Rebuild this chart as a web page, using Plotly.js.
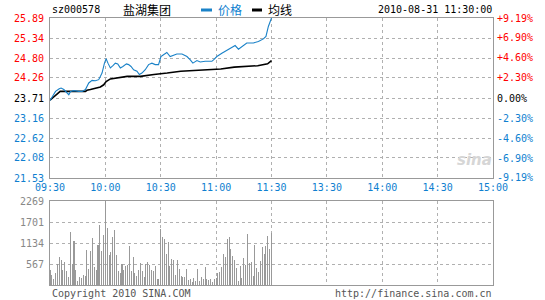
<!DOCTYPE html>
<html><head><meta charset="utf-8">
<script src="https://cdn.plot.ly/plotly-3.0.1.min.js"></script>
<style>html,body{margin:0;padding:0;background:#fff}#c{width:545px;height:300px}</style>
</head><body><div id="c"></div>
<script>
// ---- data ----
const timeLabels = ['09:30','10:00','10:30','11:00','11:30','13:30','14:00','14:30','15:00'];
const timeTicks = [0,30,60,90,120,150,180,210,240];
const basePrice = 23.71;
const priceTicks = [25.89,25.34,24.80,24.26,23.71,23.16,22.62,22.08,21.53];
const priceTickLabels = ['25.89','25.34','24.80','24.26','23.71','23.16','22.62','22.08','21.53'];
const pctTicks = [9.19,6.90,4.60,2.30,0,-2.30,-4.60,-6.90,-9.19];
const pctTickLabels = ['+9.19%','+6.90%','+4.60%','+2.30%','0.00%','-2.30%','-4.60%','-6.90%','-9.19%'];
const volTicks = [567,1134,1701,2269];
const volTickLabels = ['567','1134','1701','2269'];

const priceMin = [0,3,5,6,7.5,9.3,10.2,11.1,12.9,15.6,17.4,19.2,21,22.8,24.6,26.4,28.2,29.5,30.4,31.4,32.7,34.1,35.4,36.7,38.1,39.5,41.4,42.6,43.9,45.3,47.1,48.4,49.8,51.6,53.4,55.2,57,58.8,60.1,61.5,63.3,65.1,67.3,68.7,71.5,74.2,76,77.4,79.6,81.4,84.1,87.7,88.6,90.4,93.1,95.8,98.5,100.3,102.1,103.9,106.6,110.2,112.9,115.6,117,118.3,119.6,120];
const priceVal = [23.64,23.89,23.96,23.98,23.94,23.86,23.80,23.89,23.91,23.89,23.89,23.94,24.12,24.19,24.18,24.21,24.39,24.66,24.78,24.66,24.53,24.59,24.66,24.64,24.53,24.57,24.64,24.62,24.57,24.48,24.44,24.35,24.39,24.48,24.62,24.66,24.62,24.62,24.84,24.89,24.95,24.84,24.89,24.91,24.91,24.84,24.75,24.66,24.73,24.69,24.71,24.71,24.75,24.84,24.93,25.01,25.07,25.14,25.04,25.10,25.21,25.21,25.25,25.32,25.39,25.66,25.86,25.89];

const avgMin = [0,2.7,5.5,19.2,20,21.9,24.6,27.3,29.1,30.4,32.7,35.4,38.1,41.8,49,52.6,56.3,63.5,70.8,78,85.3,92.5,99.8,107,112.5,117.9,120];
const avgVal = [23.65,23.77,23.89,23.89,23.92,23.94,23.98,24.01,24.07,24.16,24.23,24.25,24.28,24.30,24.30,24.33,24.35,24.39,24.44,24.46,24.48,24.50,24.55,24.57,24.59,24.64,24.73];

const volume = [413,270,162,324,567,756,684,413,621,369,216,1440,576,1197,405,99,216,189,270,252,
954,432,927,1269,486,405,1089,1629,927,1359,2269,1539,819,891,1287,1485,819,387,324,567,
413,504,549,1062,387,747,324,234,413,594,387,207,576,621,549,413,369,522,171,162,
1512,1287,1242,837,1161,504,702,666,261,675,432,234,207,207,432,126,162,72,189,99,
432,117,216,162,486,171,144,162,81,162,189,324,351,486,837,756,1242,1296,972,792,
684,459,117,504,189,729,549,1377,594,621,252,1089,459,351,639,1026,837,1044,1332,981,1404];
const volMin = volume.map((v,i)=>i);

// ---- styling ----
const RED='#ff0000', BLUE='#0f7fd0', BLK='#000000', GRAY='#888888';
const MONO='DejaVu Sans Mono, monospace';
const CJK='Noto Sans CJK SC, sans-serif';
function colorFor(v){return v>0?RED:(v<0?BLUE:BLK);}
const priceTickText = priceTickLabels.map((t,i)=>'<span style="color:'+colorFor(priceTicks[i]-basePrice)+'">'+t+'</span>');

const L=50, R=493, T=18, B=285, H=300;
const mainBottom=178, volTop=201;
const px=x=>(x-L)/(R-L), py=y=>(B-y)/(B-T);

const traces=[
 {x:volMin,y:volume,type:'bar',xaxis:'x2',yaxis:'y2',marker:{color:'#999999',line:{width:0}},width:0.55,hoverinfo:'skip'},
 {x:avgMin,y:avgVal,type:'scatter',mode:'lines',line:{color:'#000',width:1.6},xaxis:'x',yaxis:'y',hoverinfo:'skip'},
 {x:priceMin,y:priceVal,type:'scatter',mode:'lines',line:{color:'#1a82c8',width:1.1},xaxis:'x',yaxis:'y',hoverinfo:'skip'}
];

const gridC='#b0b0b0';
const annotations=[
   {xref:'paper',yref:'paper',x:px(50),y:py(10),xanchor:'left',yanchor:'middle',text:'sz000578',showarrow:false,font:{family:MONO,size:10,color:'#000'}},
   {xref:'paper',yref:'paper',x:px(121),y:py(10),xanchor:'left',yanchor:'middle',text:'盐湖集团',showarrow:false,font:{family:CJK,size:12,color:'#000'}},
   {xref:'paper',yref:'paper',x:px(216),y:py(10),xanchor:'left',yanchor:'middle',text:'价格',showarrow:false,font:{family:CJK,size:12,color:BLUE}},
   {xref:'paper',yref:'paper',x:px(266),y:py(10),xanchor:'left',yanchor:'middle',text:'均线',showarrow:false,font:{family:CJK,size:12,color:'#000'}},
   {xref:'paper',yref:'paper',x:px(494),y:py(10),xanchor:'right',yanchor:'middle',text:'2010-08-31 11:30:00',showarrow:false,font:{family:MONO,size:10,color:'#000'}},
   {xref:'paper',yref:'paper',x:px(50),y:py(293),xanchor:'left',yanchor:'middle',text:'Copyright 2010 SINA.COM',showarrow:false,font:{family:MONO,size:10,color:'#555'}},
   {xref:'paper',yref:'paper',x:px(494),y:py(293),xanchor:'right',yanchor:'middle',text:'http://finance.sina.com.cn',showarrow:false,font:{family:MONO,size:10,color:'#555'}},
   {xref:'paper',yref:'paper',x:px(474),y:py(160),xanchor:'center',yanchor:'middle',text:'<b><i>sina</i></b>',showarrow:false,font:{family:'DejaVu Sans, sans-serif',size:15,color:'#d6d6d6'}}
];
// right-hand percentage labels, placed at the price level each percentage represents
pctTicks.forEach((p,i)=>{
  annotations.push({xref:'paper',yref:'y',x:1,xshift:2,y:basePrice*(1+p/100),xanchor:'left',yanchor:'middle',
    text:pctTickLabels[i],showarrow:false,font:{family:MONO,size:10,color:colorFor(p)}});
});

const layout={
 width:545,height:300,showlegend:false,
 paper_bgcolor:'#fff',plot_bgcolor:'#fff',
 margin:{l:L,r:545-R,t:T,b:H-B,pad:0},
 font:{family:MONO,size:10,color:'#000'},
 bargap:0,
 xaxis:{domain:[0,1],anchor:'y',range:[0,240],tickmode:'array',tickvals:timeTicks,ticktext:timeLabels,
   tickfont:{family:MONO,size:10,color:BLUE},showgrid:true,gridcolor:gridC,griddash:'dot',gridwidth:1,
   showline:true,mirror:true,linecolor:'#999',linewidth:1,ticks:'',zeroline:false,fixedrange:true},
 yaxis:{domain:[py(mainBottom),1],anchor:'x',range:[21.53,25.89],tickmode:'array',tickvals:priceTicks,ticktext:priceTickText,
   tickfont:{family:MONO,size:10},showgrid:true,gridcolor:gridC,griddash:'dot',
   showline:true,mirror:true,linecolor:'#999',linewidth:1,ticks:'',zeroline:false,ticklabelstandoff:3},
 xaxis2:{domain:[0,1],anchor:'y2',range:[0,240],matches:'x',tickmode:'array',tickvals:timeTicks,showticklabels:false,
   showgrid:true,gridcolor:gridC,griddash:'dot',showline:true,mirror:true,linecolor:'#999',ticks:'',zeroline:false},
 yaxis2:{domain:[0,py(volTop)],anchor:'x2',range:[0,2269],tickmode:'array',tickvals:volTicks,ticktext:volTickLabels,
   tickfont:{family:MONO,size:10,color:GRAY},showgrid:true,gridcolor:gridC,griddash:'dot',
   showline:true,mirror:true,linecolor:'#999',ticks:'',zeroline:false,ticklabelstandoff:3},
 shapes:[
   {type:'line',xref:'paper',yref:'paper',x0:px(201),x1:px(212),y0:py(10),y1:py(10),line:{color:'#1a82c8',width:3}},
   {type:'line',xref:'paper',yref:'paper',x0:px(252),x1:px(262),y0:py(10),y1:py(10),line:{color:'#000',width:3}}
 ],
 annotations:annotations
};
Plotly.newPlot('c',traces,layout,{staticPlot:true,displayModeBar:false});
</script></body></html>
